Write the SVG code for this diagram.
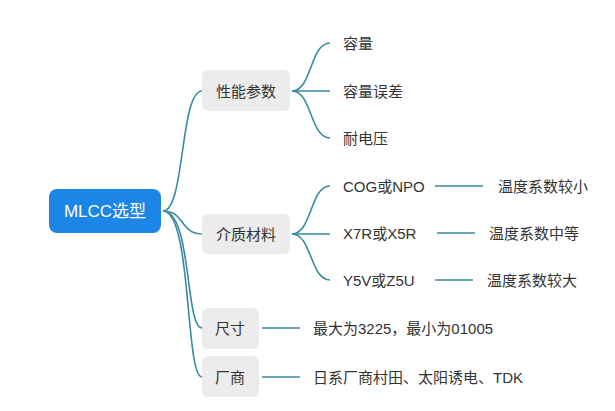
<svg xmlns="http://www.w3.org/2000/svg" width="615" height="411" viewBox="0 0 615 411">
<style>
text{font-family:"Liberation Sans","Noto Sans CJK SC",sans-serif;font-size:15px;fill:#333;dominant-baseline:central}
.box{fill:#ececec}
.c path,.c line{stroke:#3a8aa3;stroke-width:1.6;fill:none}
</style>
<rect width="615" height="411" fill="#fff"/>
<g class="c">
<path d="M163,211 C185,211 180,91 202,91"/>
<path d="M163,211 C185,211 180,234 202,234"/>
<path d="M163,211 C192,211 185,328 202,328"/>
<path d="M163,211 C192,211 185,377 202,377"/>
<path d="M292,91 C312,91 310,43 330,43"/>
<path d="M292,91 L330,91"/>
<path d="M292,91 C312,91 310,138 330,138"/>
<path d="M292,234 C312,234 310,186 330,186"/>
<path d="M292,234 L330,234"/>
<path d="M292,234 C312,234 310,280 330,280"/>
<line x1="435" y1="186" x2="483" y2="186"/>
<line x1="437" y1="233" x2="475" y2="233"/>
<line x1="435" y1="280" x2="473" y2="280"/>
<line x1="262" y1="328" x2="300" y2="328"/>
<line x1="262" y1="377" x2="300" y2="377"/>
</g>
<g id="root"><rect x="49" y="189" width="112" height="44" rx="8" fill="#1b86e6"/><text x="105" y="211" text-anchor="middle" style="fill:#fff;font-size:17px">MLCC选型</text></g>
<g id="n1"><rect class="box" x="202" y="70" width="88" height="41" rx="6"/><text x="246" y="91" text-anchor="middle">性能参数</text></g>
<g id="n2"><rect class="box" x="202" y="214" width="88" height="40" rx="6"/><text x="246" y="234" text-anchor="middle">介质材料</text></g>
<g id="n3"><rect class="box" x="202" y="308" width="57" height="41" rx="6"/><text x="230" y="328" text-anchor="middle">尺寸</text></g>
<g id="n4"><rect class="box" x="202" y="356" width="57" height="41" rx="6"/><text x="230" y="377" text-anchor="middle">厂商</text></g>
<g id="leaves">
<text x="343" y="43">容量</text>
<text x="343" y="91">容量误差</text>
<text x="343" y="138">耐电压</text>
<text x="343" y="186">COG或NPO</text>
<text x="343" y="233">X7R或X5R</text>
<text x="343" y="280">Y5V或Z5U</text>
<text x="498" y="186">温度系数较小</text>
<text x="489" y="233">温度系数中等</text>
<text x="487" y="280">温度系数较大</text>
<text x="313" y="328">最大为3225，最小为01005</text>
<text x="313" y="377">日系厂商村田、太阳诱电、TDK</text>
</g>
</svg>
